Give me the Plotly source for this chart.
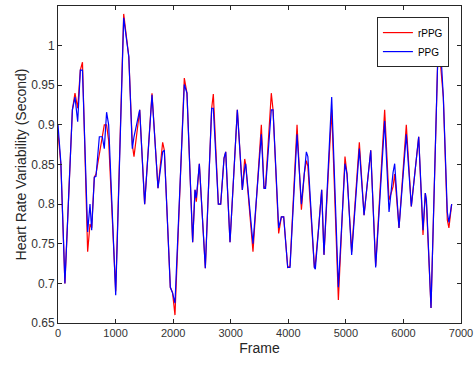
import plotly.graph_objects as go

frames = [0, 50, 120, 250, 295, 342, 388, 425, 515, 556, 585, 631, 660, 718, 770, 804, 844, 880,
          1002, 1141, 1230, 1291, 1320, 1419, 1505, 1633, 1737, 1818, 1847, 1951, 1990, 2032,
          2194, 2240, 2339, 2380, 2403, 2455, 2559, 2669, 2698, 2785, 2826, 2884, 2913, 2988,
          3115, 3202, 3243, 3260, 3387, 3532, 3578, 3605, 3705, 3735, 3833, 3880, 3920, 3990,
          4030, 4152, 4228, 4279, 4314, 4340, 4453, 4470, 4527, 4580, 4620, 4754, 4870, 4985,
          5020, 5101, 5234, 5316, 5432, 5518, 5674, 5750, 5820, 5848, 5923, 6050, 6137, 6265,
          6340, 6380, 6400, 6479, 6595, 6640, 6693, 6762, 6790, 6838]

rppg = [0.89, 0.85, 0.70, 0.919, 0.94, 0.921, 0.969, 0.979, 0.74, 0.775, 0.77, 0.834, 0.838, 0.865, 0.885, 0.90, 0.90, 0.88,
        0.69, 1.04, 0.986, 0.875, 0.86, 0.919, 0.80, 0.94, 0.82, 0.878, 0.868, 0.695, 0.688, 0.66,
        0.959, 0.94, 0.752, 0.818, 0.803, 0.851, 0.719, 0.921, 0.939, 0.80, 0.80, 0.858, 0.866, 0.752,
        0.919, 0.818, 0.857, 0.85, 0.74, 0.90, 0.82, 0.823, 0.94, 0.919, 0.763, 0.784, 0.784, 0.72,
        0.722, 0.90, 0.793, 0.839, 0.855, 0.848, 0.72, 0.725, 0.77, 0.818, 0.736, 0.919, 0.679, 0.86,
        0.838, 0.74, 0.878, 0.786, 0.868, 0.722, 0.919, 0.805, 0.822, 0.838, 0.77, 0.90, 0.797, 0.885,
        0.761, 0.814, 0.80, 0.669, 0.98, 0.98, 0.935, 0.78, 0.77, 0.80]

ppg = [0.90, 0.852, 0.70, 0.919, 0.935, 0.904, 0.969, 0.969, 0.765, 0.80, 0.767, 0.834, 0.835, 0.885, 0.885, 0.87, 0.916, 0.90,
       0.685, 1.035, 0.986, 0.87, 0.885, 0.919, 0.80, 0.938, 0.82, 0.866, 0.868, 0.695, 0.688, 0.675,
       0.951, 0.94, 0.752, 0.818, 0.808, 0.851, 0.719, 0.921, 0.921, 0.80, 0.80, 0.858, 0.866, 0.752,
       0.919, 0.818, 0.845, 0.851, 0.75, 0.888, 0.82, 0.82, 0.919, 0.919, 0.77, 0.784, 0.784, 0.72,
       0.72, 0.888, 0.80, 0.839, 0.866, 0.86, 0.72, 0.718, 0.77, 0.818, 0.736, 0.935, 0.695, 0.851,
       0.838, 0.736, 0.87, 0.786, 0.868, 0.72, 0.905, 0.79, 0.84, 0.851, 0.77, 0.888, 0.797, 0.885,
       0.767, 0.814, 0.805, 0.669, 0.98, 1.005, 0.935, 0.79, 0.777, 0.80]

x_ticks = [0, 1000, 2000, 3000, 4000, 5000, 6000, 7000]
y_ticks = [0.65, 0.7, 0.75, 0.8, 0.85, 0.9, 0.95, 1.0, 1.05]
y_ticktext = ["0.65", "0.7", "0.75", "0.8", "0.85", "0.9", "0.95", "1", "1.05"]

fig = go.Figure()
fig.add_trace(go.Scatter(x=frames, y=rppg, mode="lines", name="rPPG",
                         line=dict(color="#ff0000", width=1.2)))
fig.add_trace(go.Scatter(x=frames, y=ppg, mode="lines", name="PPG",
                         line=dict(color="#0000ff", width=1.2)))

axis_common = dict(showline=True, linecolor="#262626", linewidth=1, mirror="ticks",
                   ticks="inside", ticklen=4, tickcolor="#262626", showgrid=False,
                   zeroline=False, automargin=False,
                   title_font=dict(family="Liberation Sans, Arial", size=14, color="#262626"))

fig.update_xaxes(range=[0, 7000], tickvals=x_ticks, title_text="Frame", title_standoff=4,
                 tickfont=dict(family="Liberation Sans, Arial", size=11, color="#333333"), **axis_common)
fig.update_yaxes(range=[0.65, 1.05], tickvals=y_ticks, ticktext=y_ticktext,
                 title_text="Heart Rate Variability (Second)", title_standoff=1,
                 tickfont=dict(family="Liberation Sans, Arial", size=12, color="#333333"), **axis_common)

fig.update_layout(
    width=474, height=366,
    margin=dict(l=58, r=13, t=6, b=43),
    paper_bgcolor="white", plot_bgcolor="white",
    showlegend=True,
    legend=dict(x=0.97, y=0.965, xanchor="right", yanchor="top",
                bgcolor="white", bordercolor="#262626", borderwidth=1,
                font=dict(family="Liberation Sans, Arial", size=10, color="#000000"),
                tracegroupgap=0, itemwidth=30),
)

fig.write_html("out.html", config={"displayModeBar": False},
               post_script="document.body.style.margin='0';document.body.style.overflow='hidden';")
